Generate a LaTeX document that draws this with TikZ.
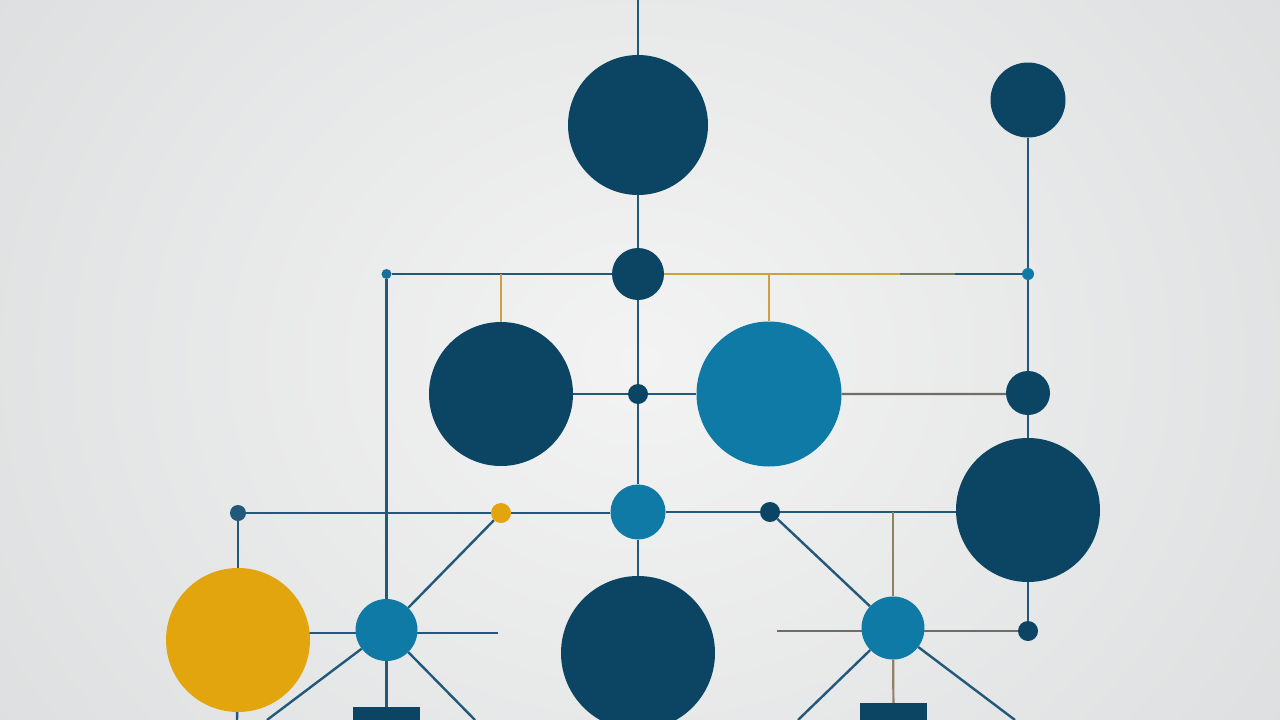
\documentclass[tikz,border=0pt]{standalone}
\usetikzlibrary{backgrounds}
\definecolor{navy}{HTML}{0B4563}
\definecolor{mblue}{HTML}{107AA6}
\definecolor{dotblue}{HTML}{1A6F9A}
\definecolor{gold}{HTML}{E3A50E}
\definecolor{lnavy}{HTML}{22587A}
\definecolor{lgold}{HTML}{CDA23E}
\definecolor{lgray}{HTML}{6E6D66}
\definecolor{ltan}{HTML}{8E8166}
\definecolor{bgin}{HTML}{F3F3F3}
\definecolor{bgout}{HTML}{D6D8D9}
\pgfdeclarelayer{lines}
\pgfsetlayers{background,lines,main}
\begin{document}
\begin{tikzpicture}[x=1pt,y=-1pt,
  disc/.style={circle,inner sep=0pt,draw=none,minimum size=#1},
  nv/.style={disc=#1,fill=navy},
  mb/.style={disc=#1,fill=mblue},
  yl/.style={disc=#1,fill=gold},
  blk/.style={rectangle,inner sep=0pt,fill=navy,minimum width=67pt,minimum height=30pt},
  ln/.style={draw=lnavy,line width=2.4pt},
  lg/.style={draw=lgold,line width=2.2pt},
  lr/.style={draw=lgray,line width=2.2pt},
  lt/.style={draw=ltan,line width=2.2pt}]
\useasboundingbox (0,0) rectangle (1280,720);
\begin{pgfonlayer}{background}
\shade[inner color=bgin,outer color=bgout] (-420,-560) rectangle (1700,1280);
\end{pgfonlayer}

% nodes
\node[nv=140pt] (T) at (638,125) {};
\node[nv=52pt] (c1) at (638,274) {};
\node[nv=75pt] (TR) at (1028,100) {};
\node[disc=10pt,fill=dotblue] (dL1) at (386.5,274) {};
\node[disc=12pt,fill=mblue] (dR1) at (1028,274) {};
\node[nv=144pt] (B1) at (501,394) {};
\node[mb=145pt] (B2) at (769,394) {};
\node[nv=20pt] (d2) at (638,394) {};
\node[nv=44pt] (R2) at (1028,393) {};
\node[nv=144pt] (R3) at (1028,510) {};
\node[disc=16pt,fill=lnavy] (d3L) at (238,513) {};
\node[yl=20pt] (gd) at (501,513) {};
\node[mb=55pt] (M) at (638,512) {};
\node[nv=20pt] (d3R) at (770,512) {};
\node[yl=144pt] (Y) at (238,640) {};
\node[mb=62pt] (BL) at (386.5,630) {};
\node[nv=154pt] (BM) at (638,653) {};
\node[mb=63pt] (BR) at (893,628) {};
\node[nv=20pt] (dR4) at (1028,631) {};
\node[blk] (RL) at (386.5,722) {};
\node[blk] (RR) at (893.5,718) {};

% free ends
\coordinate (top) at (638,-2);
\coordinate (gA) at (501,274);
\coordinate (gB) at (769,274);
\coordinate (g1) at (900,274);
\coordinate (g2) at (955,274);
\coordinate (yb) at (237,722);
\coordinate (ya) at (300,633);
\coordinate (yr) at (498,633);
\coordinate (bl1) at (267,720);
\coordinate (bl2) at (475,720);
\coordinate (rt) at (893,512);
\coordinate (rl) at (777,631);
\coordinate (br1) at (798,720);
\coordinate (br2) at (1015,720);

\begin{pgfonlayer}{lines}
\draw[ln] (top) -- (T);
\draw[ln] (T) -- (c1);
\draw[ln] (dL1) -- (c1);
\draw[lg] (c1) -- (g1);
\draw[draw=lgold!50!lnavy,line width=2.3pt] (g1) -- (g2);
\draw[ln] (g2) -- (dR1);
\draw[ln] (TR) -- (dR1);
\draw[ln] (dR1) -- (R2);
\draw[ln] (R2) -- (R3);
\draw[ln] (R3) -- (dR4);
\draw[ln] (dL1) -- (BL);
\draw[lg] (gA) -- (B1);
\draw[lg] (gB) -- (B2);
\draw[ln] (c1) -- (d2);
\draw[ln] (d2) -- (M);
\draw[ln] (M) -- (BM);
\draw[ln] (B1) -- (d2);
\draw[ln] (d2) -- (B2);
\draw[lr] (B2) -- (B2.east -| R2.west) -- (R2);
\draw[ln] (d3L) -- (d3L -| gd.west);
\draw[ln] (gd) -- (gd -| M.west);
\draw[ln] (M) -- (d3R);
\draw[ln] (d3R) -- (d3R -| R3.west);
\draw[ln] (d3L) -- (Y);
\draw[ln] (Y) -- (yb);
\draw[ln] (ya) -- (yr);
\draw[ln] (gd) -- (BL);
\draw[ln] (BL) -- (bl1);
\draw[ln] (BL) -- (bl2);
\draw[ln] (BL) -- (RL);
\draw[ln] (d3R) -- (BR);
\draw[lt] (rt) -- (BR);
\draw[lr] (rl) -- (rl -| dR4);
\draw[ln] (BR) -- (br1);
\draw[ln] (BR) -- (br2);
\draw[lt] (BR) -- (RR);
\end{pgfonlayer}
\end{tikzpicture}
\end{document}
